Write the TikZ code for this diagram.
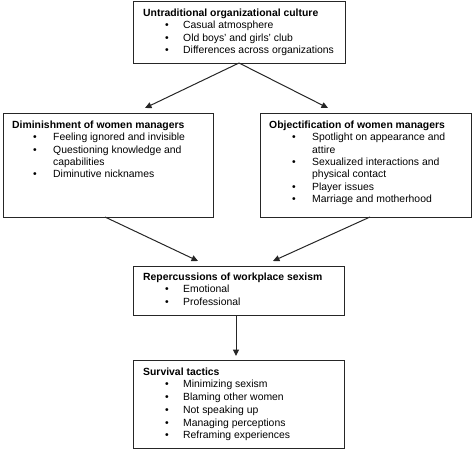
\documentclass[tikz,border=0pt]{standalone}
\usepackage{fontspec}
\setmainfont{Liberation Sans}
\usetikzlibrary{arrows.meta}
\newcommand{\bl}[3]{\hspace*{#1pt}\makebox[#2pt][l]{\textbullet}#3}
\begin{document}
\begin{tikzpicture}[x=1pt,y=-1pt]
\tikzset{
  box/.style={draw=black!85, line width=1pt, inner sep=0pt, anchor=north west, fill=white},
  txt/.style={anchor=north west, inner sep=0pt, align=left, font=\fontsize{10.4}{12.4}\selectfont},
  arr/.style={draw=black!85, line width=1pt, -{Triangle[length=6.5pt,width=6pt]}}
}
\useasboundingbox (0,0) rectangle (474,451);
% boxes
\node[box, minimum width=212pt, minimum height=62pt] (b1) at (133,1) {};
\node[box, minimum width=210pt, minimum height=104pt] (b2) at (3,113) {};
\node[box, minimum width=211pt, minimum height=104pt] (b3) at (260,113) {};
\node[box, minimum width=211pt, minimum height=49pt] (b4) at (133,266) {};
\node[box, minimum width=211pt, minimum height=88pt] (b5) at (133,360) {};
% texts
\node[txt] (t1) at (143,8.5) {\textbf{Untraditional organizational culture}\\
\bl{22}{18}{Casual atmosphere}\\
\bl{22}{18}{Old boys' and girls' club}\\
\bl{22}{18}{Differences across organizations}};
\node[txt] (t2) at (12,120.5) {\textbf{Diminishment of women managers}\\
\bl{21}{20}{Feeling ignored and invisible}\\
\bl{21}{20}{Questioning knowledge and}\\
\hspace*{41pt}capabilities\\
\bl{21}{20}{Diminutive nicknames}};
\node[txt] (t3) at (269,120.5) {\textbf{Objectification of women managers}\\
\bl{23}{20}{Spotlight on appearance and}\\
\hspace*{43pt}attire\\
\bl{23}{20}{Sexualized interactions and}\\
\hspace*{43pt}physical contact\\
\bl{23}{20}{Player issues}\\
\bl{23}{20}{Marriage and motherhood}};
\node[txt] (t4) at (143,272.5) {\textbf{Repercussions of workplace sexism}\\
\bl{22}{18}{Emotional}\\
\bl{22}{18}{Professional}};
\node[txt, font=\fontsize{10.4}{12.7}\selectfont] (t5) at (143,367.5) {\textbf{Survival tactics}\\
\bl{22}{18}{Minimizing sexism}\\
\bl{22}{18}{Blaming other women}\\
\bl{22}{18}{Not speaking up}\\
\bl{22}{18}{Managing perceptions}\\
\bl{22}{18}{Reframing experiences}};
% arrow ends
\coordinate (s1) at (239,63);
\coordinate (e1) at (145,108);
\coordinate (e2) at (328,108);
\coordinate (s3) at (105,217);
\coordinate (e3) at (198,261);
\coordinate (s4) at (370,217);
\coordinate (e4) at (273,261);
\coordinate (s5) at (236,315);
\coordinate (e5) at (236,356);
\draw[arr] (s1) -- (e1);
\draw[arr] (s1) -- (e2);
\draw[arr] (s3) -- (e3);
\draw[arr] (s4) -- (e4);
\draw[arr] (s5) -- (e5);
\end{tikzpicture}
\end{document}
